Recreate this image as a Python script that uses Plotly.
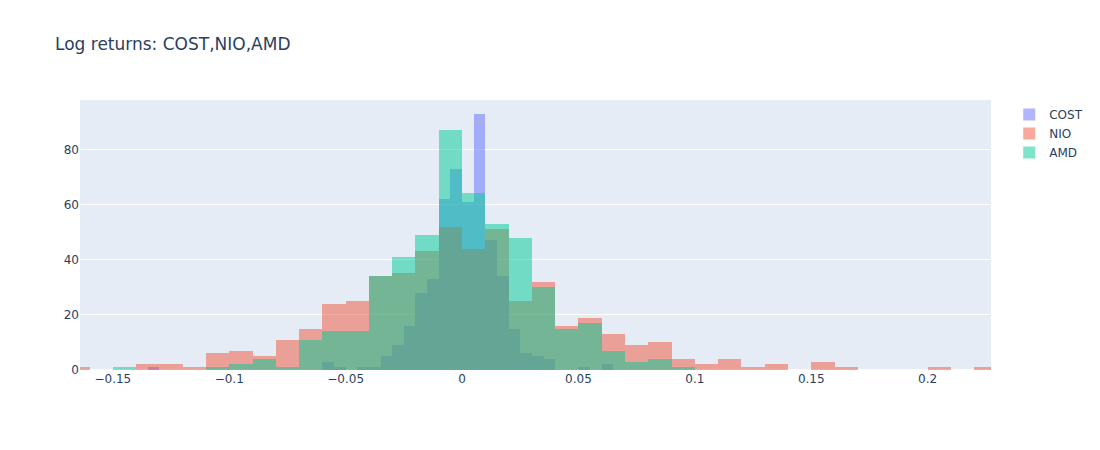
import plotly.graph_objects as go

# Bin definitions (left edge of first bin, bin width) and counts
cost_start, cost_size = -0.135, 0.005
cost_counts = [1, 0, 0, 0, 0, 0, 0, 0, 0, 0, 0, 0, 0, 0, 0,
               3, 1, 0, 1, 1, 5, 9, 16, 28, 33, 62, 73, 61, 93, 47,
               34, 15, 6, 5, 4, 0, 0, 1, 0, 2]

nio_start, nio_size = -0.17, 0.01
nio_counts = [1, 0, 0, 2, 2, 1, 6, 7, 5, 11, 15, 24, 25, 34, 35, 43, 52, 44, 51, 25,
              32, 16, 19, 13, 9, 10, 4, 2, 4, 1, 2, 0, 3, 1, 0, 0, 0, 1, 0, 1]

amd_start, amd_size = -0.15, 0.01
amd_counts = [1, 0, 0, 0, 1, 2, 4, 1, 11, 14, 14, 34, 41, 49, 87, 64, 53, 48, 30, 15,
              17, 7, 3, 4, 1]

names = ["COST", "NIO", "AMD"]
colors = ["#636efa", "#EF553B", "#00cc96"]
x_range = [-0.1641, 0.2272]


def centers(start, size, n):
    return [round(start + size * (i + 0.5), 6) for i in range(n)]


fig = go.Figure()
for name, color, (start, size, counts) in zip(
        names, colors,
        [(cost_start, cost_size, cost_counts),
         (nio_start, nio_size, nio_counts),
         (amd_start, amd_size, amd_counts)]):
    fig.add_trace(go.Bar(
        x=centers(start, size, len(counts)),
        y=counts,
        width=size,
        name=name,
        marker=dict(color=color, line=dict(width=0)),
        opacity=0.5,
    ))

fig.update_layout(
    template="plotly",
    title=dict(text="Log returns: COST,NIO,AMD"),
    font=dict(family="DejaVu Sans, Verdana, sans-serif"),
    barmode="overlay",
    bargap=0,
    height=450,
)
fig.update_xaxes(range=x_range)
fig.write_html(
    "out.html",
    config={"displayModeBar": False},
    post_script=(
        "document.body.style.margin='0px';"
        "Plotly.Plots.resize(document.getElementById('{plot_id}'));"
    ),
)
